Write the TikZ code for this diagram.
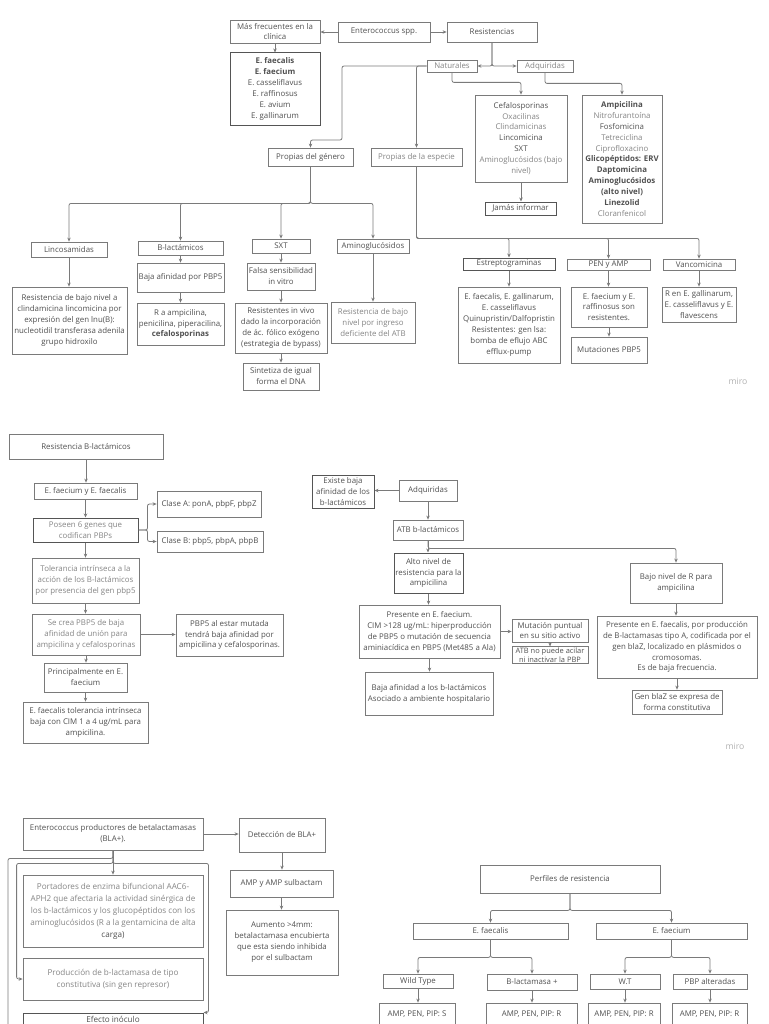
\documentclass[tikz,border=0pt]{standalone}
\usepackage{fontspec}
\setmainfont{Open Sans}
\usetikzlibrary{arrows.meta,calc}
\definecolor{tc}{HTML}{505050}
\definecolor{tl}{HTML}{858585}
\definecolor{bc}{HTML}{7a7a7a}
\definecolor{bd}{HTML}{555555}
\newcommand\fsz{\fontsize{5.9}{8.2}\selectfont}
\newcommand\fbig{\fontsize{6.1}{9}\selectfont}
\tikzset{
 box/.style={draw=bc, line width=0.6pt, fill=white, inner sep=0.5pt, align=center, text=tc, font=\fsz},
 arr/.style={draw=bc, line width=0.6pt, -{Stealth[length=3pt,width=2.6pt]}, rounded corners=1.5pt},
 ln/.style={draw=bc, line width=0.6pt, rounded corners=1.5pt},
 dark/.style={draw=bd, line width=0.75pt},
 wm/.style={text=black!30, font=\fontsize{6.5}{7}\selectfont},
}
\newcommand\bx[7][]{\node[box,minimum width={(#5-#3)*0.75pt},minimum height={(#6-#4)*0.75pt},#1] (#2) at ({(#3+#5)/2},{(#4+#6)/2}) {#7};}
\begin{document}
\begin{tikzpicture}[x=0.75pt,y=-0.75pt]
\useasboundingbox (0,0) rectangle (768,1024);
\clip (0,0) rectangle (768,1024);
\fill[white] (0,0) rectangle (768,1024);
% ---------- section 1 ----------
\bx{mas}{230}{20}{320}{43}{Más frecuentes en la\\clínica}
\bx{ent}{338}{22}{430}{42}{Enterococcus spp.}
\bx{res}{447}{22}{537}{42}{Resistencias}
\bx[dark]{lst}{230}{53}{320}{125}{\textbf{E. faecalis}\\\textbf{E. faecium}\\E. casseliflavus\\E. raffinosus\\E. avium\\E. gallinarum}
\bx[text=tl]{nat}{427}{60}{477}{72}{Naturales}
\bx[text=tl]{adq}{517}{60}{573}{72}{Adquiridas}
\bx{cef}{475}{95}{567}{182}{Cefalosporinas\\\textcolor{tl}{Oxacilinas}\\\textcolor{tl}{Clindamicinas}\\Lincomicina\\SXT\\\textcolor{tl}{Aminoglucósidos (bajo}\\\textcolor{tl}{nivel)}}
\bx[dark]{jam}{485}{202}{556}{215}{Jamás informar}
\bx{amp}{582}{95}{662}{223}{\textbf{Ampicilina}\\\textcolor{tl}{Nitrofurantoína}\\Fosfomicina\\\textcolor{tl}{Tetreciclina}\\\textcolor{tl}{Ciprofloxacino}\\\textbf{Glicopéptidos: ERV}\\\textbf{Daptomicina}\\\textbf{Aminoglucósidos}\\\textbf{(alto nivel)}\\\textbf{Linezolid}\\\textcolor{tl}{Cloranfenicol}}
\bx{pg}{268}{148}{353}{166}{Propias del género}
\bx[text=tl]{pe}{371}{148}{462}{166}{Propias de la especie}
\bx{linc}{31}{242}{107}{257}{Lincosamidas}
\bx{lincr}{12}{287}{127}{354}{Resistencia de bajo nivel a\\clindamicina lincomicina por\\expresión del gen lnu(B):\\nucleotidil transferasa adenila\\grupo hidroxilo}
\bx{bl}{138}{241}{223}{255}{B-lactámicos}
\bx{blb}{137}{263}{224}{292}{Baja afinidad por PBP5}
\bx{blr}{137}{303}{224}{345}{R a ampicilina,\\penicilina, piperacilina,\\\textbf{cefalosporinas}}
\bx{sxt}{252}{239}{310}{253}{SXT}
\bx{sxf}{247}{263}{315}{290}{Falsa sensibilidad\\in vitro}
\bx{sxr}{235}{303}{327}{353}{Resistentes in vivo\\dado la incorporación\\de ác. fólico exógeno\\(estrategia de bypass)}
\bx{sxs}{243}{363}{319}{390}{Sintetiza de igual\\forma el DNA}
\bx{ami}{337}{239}{409}{253}{Aminoglucósidos}
\bx[text=tl]{amir}{331}{302}{415}{343}{Resistencia de bajo\\nivel por ingreso\\deficiente del ATB}
\bx[dark]{est}{463}{258}{555}{270}{Estreptograminas}
\bx{estr}{458}{287}{560}{363}{E. faecalis, E. gallinarum,\\E. casseliflavus\\Quinupristin/Dalfopristin\\Resistentes: gen lsa:\\bomba de eflujo ABC\\efflux-pump}
\bx{pen}{567}{259}{650}{270}{PEN y AMP}
\bx{penr}{571}{287}{647}{327}{E. faecium y E.\\raffinosus son\\resistentes.}
\bx{mutp}{571}{337}{647}{363}{Mutaciones PBP5}
\bx{van}{663}{259}{735}{270}{Vancomicina}
\bx{vanr}{662}{287}{736}{322}{R en E. gallinarum,\\E. casseliflavus y E.\\flavescens}
\node[wm] (wm1) at (738,381) {miro};
\draw[arr] (ent.west) -- (ent.west -| mas.east);
\draw[arr] (ent.east) -- (ent.east -| res.west);
\draw[arr] (mas.south) -- (mas.south |- lst.north);
\draw[arr] (res.south) |- (nat.east);
\draw[arr] (res.south) |- (adq.west);
\draw[arr] (nat.west) -| (342,140) -| (pg.north);
\draw[arr] (nat.west) -| (pe.north);
\draw[arr] (nat.south) -- ++(0,10) -| (cef.north);
\draw[arr] (adq.south) -- ++(0,11) -| (amp.north);
\draw[arr] (cef.south) -- (cef.south |- jam.north);
\foreach \t in {linc,bl,sxt,ami} \draw[arr] (pg.south) -- ++(0,37) -| (\t.north);
\draw[arr] (linc.south) -- (linc.south |- lincr.north);
\draw[arr] (bl.south) -- (bl.south |- blb.north);
\draw[arr] (blb.south) -- (blb.south |- blr.north);
\draw[arr] (sxt.south) -- (sxt.south |- sxf.north);
\draw[arr] (sxf.south) -- (sxf.south |- sxr.north);
\draw[arr] (sxr.south) -- (sxr.south |- sxs.north);
\draw[arr] (ami.south) -- (ami.south |- amir.north);
\foreach \t in {est,pen,van} \draw[arr] (pe.south) -- ++(0,72) -| (\t.north);
\draw[arr] (est.south) -- (est.south |- estr.north);
\draw[arr] (pen.south) -- (pen.south |- penr.north);
\draw[arr] (penr.south) -- (penr.south |- mutp.north);
\draw[arr] (van.south) -- (van.south |- vanr.north);
% ---------- section 2 ----------
\bx{rb}{9}{434}{163}{459}{Resistencia B-lactámicos}
\bx{ef}{34}{483}{137}{499}{E. faecium y E. faecalis}
\bx[dark,text=tl]{pos}{33}{518}{138}{542}{Poseen 6 genes que\\codifican PBPs}
\bx{cla}{157}{491}{261}{517}{Clase A: ponA, pbpF, pbpZ}
\bx{clb}{157}{531}{263}{552}{Clase B: pbp5, pbpA, pbpB}
\bx[text=tl]{tol}{32}{558}{139}{603}{Tolerancia intrínseca a la\\acción de los B-lactámicos\\por presencia del gen pbp5}
\bx[text=tl]{scr}{32}{614}{140}{655}{Se crea PBP5 de baja\\afinidad de unión para\\ampicilina y cefalosporinas}
\bx{pbm}{176}{614}{283}{656}{PBP5 al estar mutada\\tendrá baja afinidad por\\ampicilina y cefalosporinas.}
\bx{pri}{44}{663}{127}{692}{Principalmente en E.\\faecium}
\bx{eft}{23}{702}{148}{743}{E. faecalis tolerancia intrínseca\\baja con CIM 1 a 4 ug/mL para\\ampicilina.}
\draw[arr] (rb.south) -- (rb.south |- ef.north);
\draw[arr] (ef.south) -- (ef.south |- pos.north);
\draw[arr] (pos.south) -- (pos.south |- tol.north);
\draw[arr] (tol.south) -- (tol.south |- scr.north);
\draw[arr] (scr.south) -- (scr.south |- pri.north);
\draw[arr] (pri.south) -- (pri.south |- eft.north);
\draw[arr] (pos.east) -- ++(9,0) |- (cla.west);
\draw[arr] (pos.east) -- ++(9,0) |- (clb.west);
\draw[arr] (scr.east) -- (scr.east -| pbm.west);
\bx[dark]{exi}{312}{475}{374}{508}{Existe baja\\afinidad de los\\b-lactámicos}
\bx{adq2}{399}{480}{457}{501}{Adquiridas}
\bx{atb}{393}{520}{463}{540}{ATB b-lactámicos}
\bx[dark]{alto}{394}{553}{463}{593}{Alto nivel de\\resistencia para la\\ampicilina}
\bx{pfm}{359}{605}{500}{658}{Presente en E. faecium.\\CIM >128 ug/mL: hiperproducción\\de PBP5 o mutación de secuencia\\aminiacídica en PBP5 (Met485 a Ala)}
\bx{baf}{365}{672}{493}{715}{Baja afinidad a los b-lactámicos\\Asociado a ambiente hospitalario}
\bx{mut}{512}{619}{588}{642}{Mutación puntual\\en su sitio activo}
\bx[font=\fontsize{5.6}{7}\selectfont]{atbn}{512}{647}{588}{663}{ATB no puede acilar\\ni inactivar la PBP}
\bx{bnr}{630}{563}{722}{603}{Bajo nivel de R para\\ampicilina}
\bx{pfs}{597}{616}{757}{678}{Presente en E. faecalis, por producción\\de B-lactamasas tipo A, codificada por el\\gen blaZ, localizado en plásmidos o\\cromosomas.\\Es de baja frecuencia.}
\bx{gen}{632}{690}{722}{714}{Gen blaZ se expresa de\\forma constitutiva}
\node[wm] (wm2) at (735,746) {miro};
\draw[arr] (adq2.west) -- (adq2.west -| exi.east);
\draw[arr] (adq2.south) -- (adq2.south |- atb.north);
\draw[arr] (atb.south) -- (atb.south |- alto.north);
\draw[arr] (atb.south) -- ++(0,8) -| (bnr.north);
\draw[arr] (alto.south) -- (alto.south |- pfm.north);
\draw[arr] (pfm.south) -- (pfm.south |- baf.north);
\draw[arr] (pfm.east) -- (pfm.east -| mut.west);
\draw[arr] (mut.south) -- (mut.south |- atbn.north);
\draw[arr] (bnr.south) -- (bnr.south |- pfs.north);
\draw[arr] (pfs.south) -- (pfs.south |- gen.north);
% ---------- section 3 ----------
\bx{entp}{23}{818}{203}{850}{Enterococcus productores de betalactamasas\\(BLA+).}
\bx{det}{239}{818}{325}{852}{Detección de BLA+}
\bx{amps}{230}{870}{333}{897}{AMP y AMP sulbactam}
\bx{aum}{226}{910}{338}{975}{Aumento >4mm:\\betalactamasa encubierta\\que esta siendo inhibida\\por el sulbactam}
\bx[text=tl,font=\fbig]{port}{23}{875}{203}{947}{Portadores de enzima bifuncional AAC6-\\APH2 que afectaria la actividad sinérgica de\\los b-lactámicos y los glucopéptidos con los\\aminoglucósidos (R a la gentamicina de alta\\\textcolor{tc}{carga)}}
\bx[text=tl,font=\fbig]{prod}{23}{958}{203}{1000}{Producción de b-lactamasa de tipo\\constitutiva (sin gen represor)}
\bx[dark,font=\fbig]{efe}{23}{1013}{203}{1026}{Efecto inóculo}
\coordinate (offb) at (8,1040);
\draw[arr] (entp.east) -- (entp.east -| det.west);
\draw[arr] (det.south) -- (det.south |- amps.north);
\draw[arr] (amps.south) -- (amps.south |- aum.north);
\draw[arr] (entp.south) -- (entp.south |- port.north);
\draw[ln] (entp.south) -- ++(0,8) -| (offb);
\draw[arr] (entp.south) -- ++(0,13) -| ($(prod.west)+(-6,0)$) -- (prod.west);
\draw[arr] (entp.south) -- ++(0,13) -| ($(efe.north east)+(5,0)$) -- ($(efe.north east)+(0,0)$);
\bx{perf}{480}{865}{660}{893}{Perfiles de resistencia}
\bx{efcl}{413}{923}{568}{939}{E. faecalis}
\bx{efcm}{596}{923}{747}{939}{E. faecium}
\bx{wt}{383}{974}{453}{988}{Wild Type}
\bx{blp}{487}{974}{577}{990}{B-lactamasa +}
\bx{wt2}{590}{974}{660}{989}{W.T}
\bx{pbpa}{673}{974}{747}{989}{PBP alteradas}
\bx{a1}{379}{1003}{455}{1026}{AMP, PEN, PIP: S}
\bx{a2}{486}{1003}{577}{1026}{AMP, PEN, PIP: R}
\bx{a3}{588}{1003}{660}{1026}{AMP, PEN, PIP: R}
\bx{a4}{672}{1003}{747}{1026}{AMP, PEN, PIP: R}
\draw[arr] (perf.south) -- ++(0,17) -| (efcl.north);
\draw[arr] (perf.south) -- ++(0,17) -| (efcm.north);
\draw[arr] (efcl.south) -- ++(0,18) -| (wt.north);
\draw[arr] (efcl.south) -- ++(0,18) -| (blp.north);
\draw[arr] (efcm.south) -- ++(0,18) -| (wt2.north);
\draw[arr] (efcm.south) -- ++(0,18) -| (pbpa.north);
\draw[arr] (wt.south) -- (wt.south |- a1.north);
\draw[arr] (blp.south) -- (blp.south |- a2.north);
\draw[arr] (wt2.south) -- (wt2.south |- a3.north);
\draw[arr] (pbpa.south) -- (pbpa.south |- a4.north);
\end{tikzpicture}
\end{document}
